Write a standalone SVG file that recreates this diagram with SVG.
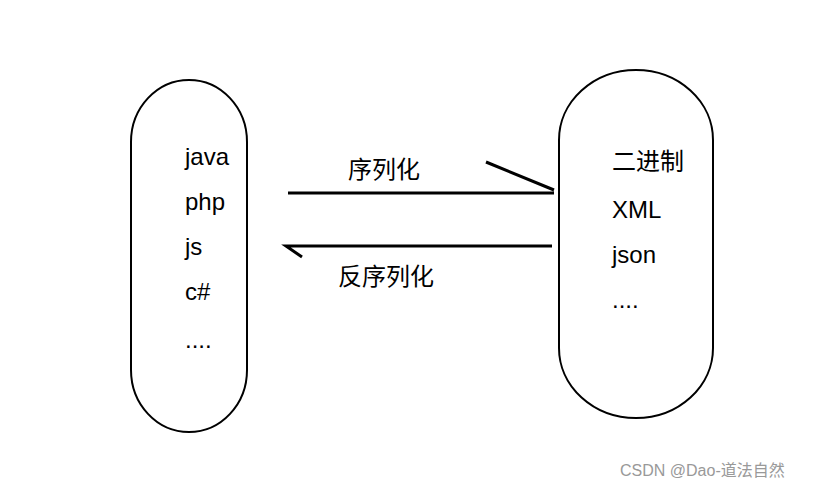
<svg xmlns="http://www.w3.org/2000/svg" width="828" height="489" viewBox="0 0 828 489">
<style>
.s{fill:none;stroke:#000;stroke-width:2}
.l{stroke:#000;stroke-width:3;fill:none}
.t{font-family:"Liberation Sans","Noto Sans CJK SC",sans-serif;font-size:24px;fill:#000}
.w{font-family:"Liberation Sans","Noto Sans CJK SC",sans-serif;font-size:16px;fill:#999}
</style>
<rect width="828" height="489" fill="#fff"/>
<g id="left"><rect class="s" x="131" y="80" width="116" height="352" rx="58" ry="62"/>
<text class="t" x="185" y="165">java</text><text class="t" x="185" y="210">php</text><text class="t" x="185" y="255">js</text><text class="t" x="185" y="300">c#</text><text class="t" x="185" y="348">....</text></g>
<g id="right"><rect class="s" x="559" y="70" width="154" height="348" rx="77" ry="70"/>
<text class="t" x="612" y="170">二进制</text><text class="t" x="612" y="218">XML</text><text class="t" x="612" y="263">json</text><text class="t" x="612" y="308">....</text></g>
<g id="connectors">
<path class="l" d="M288 193H554M486 162L554 190"/>
<path class="l" d="M552 246H286L302 257"/>
<text class="t" x="348" y="178">序列化</text>
<text class="t" x="338" y="285">反序列化</text>
</g>
<text class="w" x="620" y="476">CSDN @Dao-道法自然</text>
</svg>
